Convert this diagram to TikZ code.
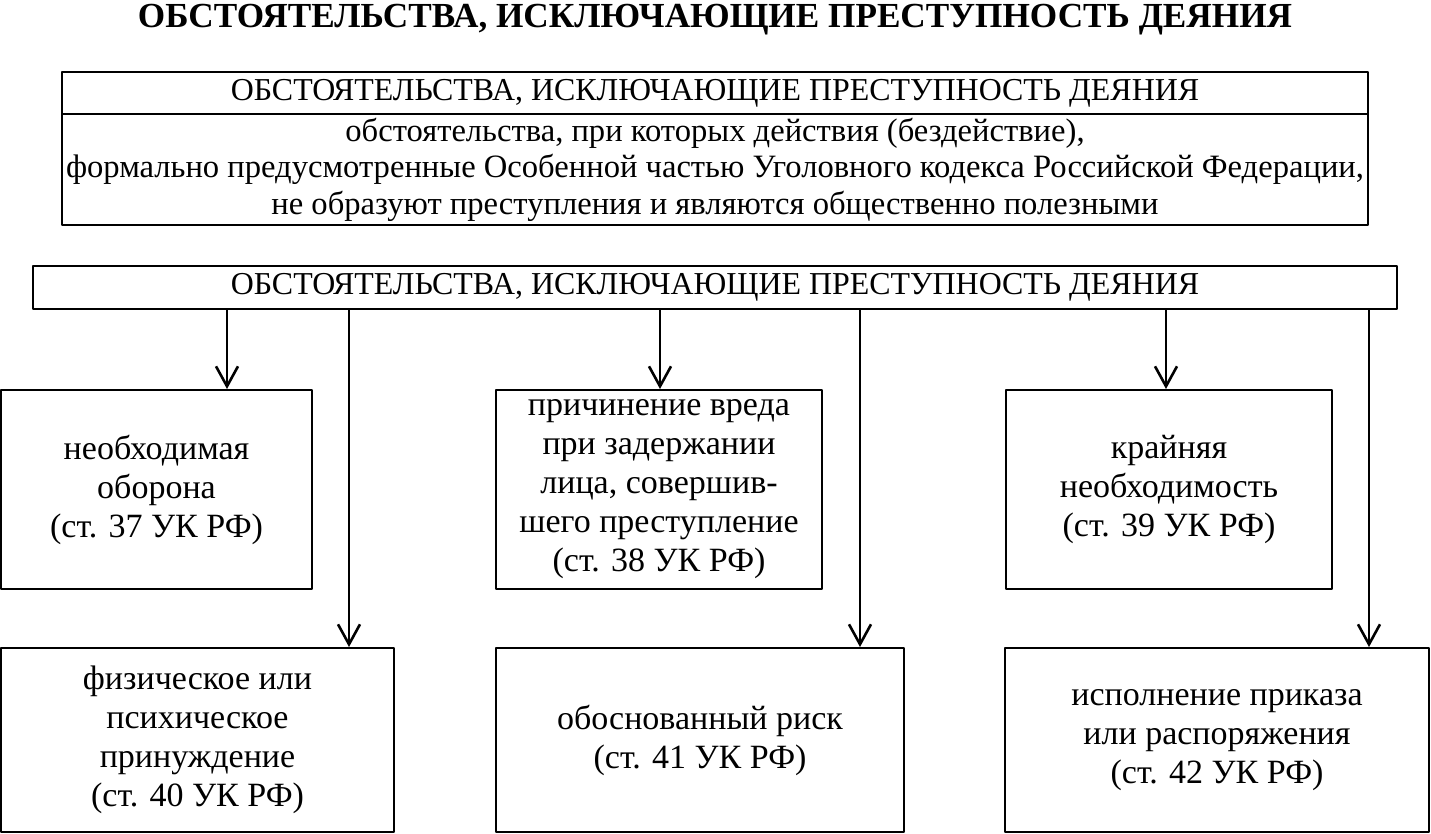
\documentclass[tikz,border=0pt]{standalone}
\usepackage{fontspec}
\setmainfont{Liberation Serif}
\usetikzlibrary{arrows.meta}
\begin{document}
\begin{tikzpicture}[x=0.5pt, y=-0.5pt, line cap=round, line join=round, font=\fontsize{17}{19.5}\selectfont, >={Straight Barb[length=10pt, width=11pt]}]
			\tikzset{box/.style={draw, line width=1pt, align=center, inner sep=0pt},
				arr/.style={->, line width=1.3pt}}
			\useasboundingbox (0,0) rectangle (1431,834);
			\node[anchor=base, font=\fontsize{17.6}{19}\selectfont\bfseries] (title) at (715,28) {ОБСТОЯТЕЛЬСТВА, ИСКЛЮЧАЮЩИЕ ПРЕСТУПНОСТЬ ДЕЯНИЯ};
			% definition
			\node[box, minimum width=653pt, minimum height=21pt, font=\fontsize{15.95}{18}\selectfont] (defhead) at (715,93) {ОБСТОЯТЕЛЬСТВА, ИСКЛЮЧАЮЩИЕ ПРЕСТУПНОСТЬ ДЕЯНИЯ};
			\node[box, minimum width=653pt, minimum height=55.5pt, font=\fontsize{16.3}{18.2}\selectfont] (defbody) at (715,169.5) {обстоятельства, при которых действия (бездействие),\\формально предусмотренные Особенной частью Уголовного кодекса Российской Федерации,\\не образуют преступления и являются общественно полезными};
			% kinds
			\node[box, minimum width=682pt, minimum height=21.5pt, font=\fontsize{15.95}{18}\selectfont] (main) at (715,287.5) {ОБСТОЯТЕЛЬСТВА, ИСКЛЮЧАЮЩИЕ ПРЕСТУПНОСТЬ ДЕЯНИЯ};
			\node[box, minimum width=155.5pt, minimum height=99.5pt] (b37) at (156.5,489.5) {необходимая\\оборона\\(ст. 37 УК РФ)};
			\node[box, minimum width=163pt, minimum height=99.5pt] (b38) at (659,489.5) {причинение вреда\\при задержании\\лица, совершив-\\шего преступление\\(ст. 38 УК РФ)};
			\node[box, minimum width=163pt, minimum height=99.5pt] (b39) at (1169,489.5) {крайняя\\необходимость\\(ст. 39 УК РФ)};
			\node[box, minimum width=196.5pt, minimum height=92pt] (b40) at (197.5,740) {физическое или\\психическое\\принуждение\\(ст. 40 УК РФ)};
			\node[box, minimum width=204pt, minimum height=92pt] (b41) at (700,740) {обоснованный риск\\(ст. 41 УК РФ)};
			\node[box, minimum width=212pt, minimum height=92pt] (b42) at (1217,740) {исполнение приказа\\или распоряжения\\(ст. 42 УК РФ)};
			\foreach \b/\x in {b37/227, b40/349, b38/660, b41/860, b39/1166, b42/1369}{
				\coordinate (x\b) at (\x,0);
				\draw[arr] (main.south -| x\b) -- (\b.north -| x\b);
			}
		\end{tikzpicture}
\end{document}
